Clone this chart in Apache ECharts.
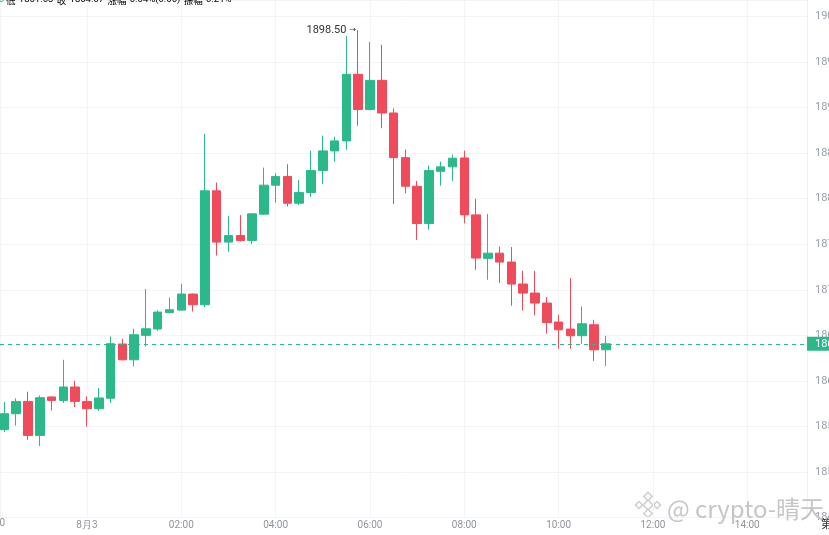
<!DOCTYPE html>
<html>
<head>
<meta charset="utf-8">
<script src="https://cdn.jsdelivr.net/npm/echarts@6/dist/echarts.min.js"></script>
<style>
html,body{margin:0;padding:0;background:#fff;}
#c{width:829px;height:535px;}
</style>
</head>
<body>
<div id="c"></div>
<script>
// ---- data (15-minute candles, ETH/USDT, 2 Aug 22:15 -> 3 Aug 11:00) ----
const times = [
 '2023-08-02 22:15','2023-08-02 22:30','2023-08-02 22:45','2023-08-02 23:00','2023-08-02 23:15','2023-08-02 23:30','2023-08-02 23:45',
 '2023-08-03 00:00','2023-08-03 00:15','2023-08-03 00:30','2023-08-03 00:45','2023-08-03 01:00','2023-08-03 01:15','2023-08-03 01:30','2023-08-03 01:45',
 '2023-08-03 02:00','2023-08-03 02:15','2023-08-03 02:30','2023-08-03 02:45','2023-08-03 03:00','2023-08-03 03:15','2023-08-03 03:30','2023-08-03 03:45',
 '2023-08-03 04:00','2023-08-03 04:15','2023-08-03 04:30','2023-08-03 04:45','2023-08-03 05:00','2023-08-03 05:15','2023-08-03 05:30','2023-08-03 05:45',
 '2023-08-03 06:00','2023-08-03 06:15','2023-08-03 06:30','2023-08-03 06:45','2023-08-03 07:00','2023-08-03 07:15','2023-08-03 07:30','2023-08-03 07:45',
 '2023-08-03 08:00','2023-08-03 08:15','2023-08-03 08:30','2023-08-03 08:45','2023-08-03 09:00','2023-08-03 09:15','2023-08-03 09:30','2023-08-03 09:45',
 '2023-08-03 10:00','2023-08-03 10:15','2023-08-03 10:30','2023-08-03 10:45','2023-08-03 11:00'
];
const opens  = [1854.65,1856.40,1857.75,1854.02,1858.24,1857.86,1859.33,
 1857.75,1856.95,1858.10,1864.05,1862.32,1865.00,1865.70,1867.50,
 1867.77,1869.53,1868.36,1880.86,1875.23,1875.95,1875.40,1878.30,
 1881.48,1882.42,1879.50,1880.67,1883.08,1885.24,1886.34,1893.65,
 1889.78,1892.98,1889.40,1884.50,1881.36,1877.27,1883.00,1883.49,
 1884.47,1878.22,1873.45,1874.02,1873.04,1870.63,1869.64,1868.54,
 1866.46,1865.69,1864.96,1866.16,1863.41];
const closes = [1856.40,1857.75,1854.02,1858.16,1857.86,1859.33,1857.75,
 1856.95,1858.13,1864.08,1862.32,1865.07,1865.72,1867.55,1867.81,
 1869.53,1868.36,1880.86,1875.23,1875.95,1875.40,1878.33,1881.48,
 1882.42,1879.50,1880.67,1883.08,1885.24,1886.34,1893.65,1889.78,
 1892.98,1889.40,1884.50,1881.36,1877.27,1883.08,1883.49,1884.44,
 1878.22,1873.48,1874.02,1873.04,1870.63,1869.64,1868.54,1866.41,
 1865.61,1864.96,1866.27,1863.41,1864.07];
const lows   = [1854.40,1855.09,1853.55,1852.86,1856.77,1857.58,1857.14,
 1854.98,1856.73,1857.58,1862.25,1861.59,1863.78,1865.50,1867.40,
 1867.70,1867.62,1868.10,1873.76,1874.17,1875.30,1875.04,1878.20,
 1879.57,1879.13,1879.29,1880.20,1881.60,1884.06,1885.35,1888.00,
 1889.70,1887.73,1879.40,1880.60,1875.48,1876.58,1881.43,1881.92,
 1877.30,1872.19,1871.10,1870.73,1868.25,1867.73,1867.18,1865.18,
 1863.53,1863.53,1864.08,1862.20,1861.63];
const highs  = [1857.70,1858.08,1858.82,1858.41,1858.30,1862.32,1860.02,
 1858.30,1859.22,1864.88,1864.63,1865.72,1870.08,1867.73,1869.16,
 1870.66,1869.60,1887.10,1881.77,1878.11,1878.20,1878.40,1883.41,
 1882.80,1883.78,1882.06,1885.27,1886.92,1886.80,1897.85,1898.50,
 1897.20,1896.90,1889.90,1885.39,1881.95,1883.63,1884.07,1884.84,
 1885.27,1879.98,1878.33,1874.75,1874.68,1872.08,1872.08,1869.20,
 1867.26,1871.28,1868.17,1866.71,1864.95];
const lastPrice = 1864.07;
const highMark = { time: '2023-08-03 05:45', price: 1898.50 };
const headerItems = [
  ['低', '1861.63'], ['收', '1864.07'], ['涨幅', '0.04%(0.66)'], ['振幅', '0.21%']
];
const yTickMin = 1845, yTickMax = 1901.8, yStep = 5;
const xMin = '2023-08-02 22:09:20', xMax = '2023-08-03 15:16:00';

// ---- build ----
function parseT(s){
  const [d,t] = s.split(' ');
  const [Y,M,D] = d.split('-').map(Number);
  const tp = t.split(':').map(Number);
  return new Date(Y, M-1, D, tp[0], tp[1], tp[2]||0).getTime();
}
const UP = '#2bb98b', DOWN = '#ef4b5b';
const candles = times.map((t,i)=>[parseT(t), opens[i], closes[i], lows[i], highs[i]]);
const pad = n => (n<10?'0':'')+n;

const chart = echarts.init(document.getElementById('c'), null, {renderer:'canvas'});

const headerRich = {
  g:{color:'#9aa0a8', fontSize:9.5, fontFamily:'Noto Sans CJK SC'},
  v:{color:UP, fontSize:9.5, fontFamily:'Roboto'}
};
const headerStr = headerItems.map(([k,v])=>'{g|'+k+'} {v|'+v+'}').join(' ');

chart.setOption({
  animation:false,
  backgroundColor:'#fff',
  grid:{left:0, right:22, top:0, bottom:17.4, containLabel:false, outerBoundsMode:'none'},
  xAxis:{
    type:'time',
    min:parseT(xMin), max:parseT(xMax),
    minInterval:9000000, maxInterval:9000000,
    axisLine:{show:false}, axisTick:{show:false},
    splitLine:{show:true, lineStyle:{color:'#f3f4f5', width:1}},
    axisLabel:{
      color:'#8f959c', fontSize:10, fontFamily:'Roboto', margin:3,
      showMinLabel:false, showMaxLabel:false, hideOverlap:false,
      formatter:function(v){
        const d = new Date(v);
        if(d.getHours()===0 && d.getMinutes()===0) return (d.getMonth()+1)+'月'+d.getDate();
        return pad(d.getHours())+':'+pad(d.getMinutes());
      }
    }
  },
  yAxis:{
    type:'value', position:'right', scale:true,
    min:yTickMin, max:yTickMax, interval:yStep,
    axisLine:{show:true, lineStyle:{color:'#eef0f2'}}, axisTick:{show:false},
    splitLine:{show:true, lineStyle:{color:'#f3f4f5', width:1}},
    axisLabel:{color:'#9aa0a8', fontSize:11, fontFamily:'Roboto', margin:8,
      showMaxLabel:false, formatter:v=>v.toFixed(2)}
  },
  series:[{
    type:'candlestick',
    data:candles.map(c=>[c[0],c[1],c[2],c[3],c[4]]),
    encode:{x:0, y:[1,2,3,4]},
    barWidth:9,
    itemStyle:{color:UP, color0:DOWN, borderColor:UP, borderColor0:DOWN, borderWidth:1},
    markPoint:{
      symbol:'circle', symbolSize:0,
      data:[{coord:[parseT(highMark.time), highMark.price], value:highMark.price}],
      label:{show:true, position:[-2,0], align:'right', verticalAlign:'middle',
        formatter:p=>'{n|'+p.value.toFixed(2)+'}{a|→}',
        rich:{
          n:{color:'#333', fontSize:11, fontFamily:'"Liberation Sans Narrow", Roboto', padding:[0,3,0,0]},
          a:{color:'#333', fontSize:8, fontFamily:'DejaVu Sans'}
        }}
    },
    markLine:{
      symbol:['none','none'], silent:true,
      data:[{yAxis:lastPrice}],
      lineStyle:{color:UP, type:[4,4], width:1},
      label:{show:true, position:'end', distance:0, formatter:lastPrice.toFixed(2),
        backgroundColor:UP, color:'#fff', fontSize:11, fontFamily:'Roboto',
        padding:[1,4,1,8], lineHeight:12}
    }
  }],
  graphic:[
    {type:'text', x:4, y:0, z:10, style:{text:'1864.95', fill:UP, font:'9.5px Roboto', align:'right', verticalAlign:'middle'}},
    {type:'text', x:6, y:0, z:10, style:{text:headerStr, rich:headerRich, verticalAlign:'middle'}},
    // watermark
    {type:'group', x:648, y:505, z:20, children:[
      {type:'rect', rotation:Math.PI/4, shape:{x:-3.5,y:-3.5,width:7,height:7}, style:{fill:'none', stroke:'#cfcfcf', lineWidth:1.5}},
      {type:'rect', x:0, y:-8.5, rotation:Math.PI/4, shape:{x:-3,y:-3,width:6,height:6}, style:{fill:'none', stroke:'#cfcfcf', lineWidth:1.5}},
      {type:'rect', x:0, y:8.5, rotation:Math.PI/4, shape:{x:-3,y:-3,width:6,height:6}, style:{fill:'none', stroke:'#cfcfcf', lineWidth:1.5}},
      {type:'rect', x:-9, y:0, rotation:Math.PI/4, shape:{x:-2.5,y:-2.5,width:5,height:5}, style:{fill:'none', stroke:'#cfcfcf', lineWidth:1.5}},
      {type:'rect', x:9, y:0, rotation:Math.PI/4, shape:{x:-2.5,y:-2.5,width:5,height:5}, style:{fill:'none', stroke:'#cfcfcf', lineWidth:1.5}}
    ]},
    {type:'text', x:667, y:509, z:20, style:{text:'@ crypto-晴天', fill:'#c6c6c6', font:'24px "Noto Sans CJK SC"', verticalAlign:'middle'}},
    {type:'text', x:821, y:524, z:20, style:{text:'第', fill:'#333', font:'11px "Noto Sans CJK SC"', verticalAlign:'middle'}}
  ]
});

// partial label for 22:00 at the left edge, placed through the axis scale
const px22 = chart.convertToPixel({xAxisIndex:0}, parseT('2023-08-02 22:00'));
chart.setOption({graphic:[{type:'text', id:'lbl22', x:px22, y:523, z:5,
  style:{text:'22:00', fill:'#8f959c', font:'10px Roboto', align:'center', verticalAlign:'middle'}}]});
</script>
</body>
</html>
